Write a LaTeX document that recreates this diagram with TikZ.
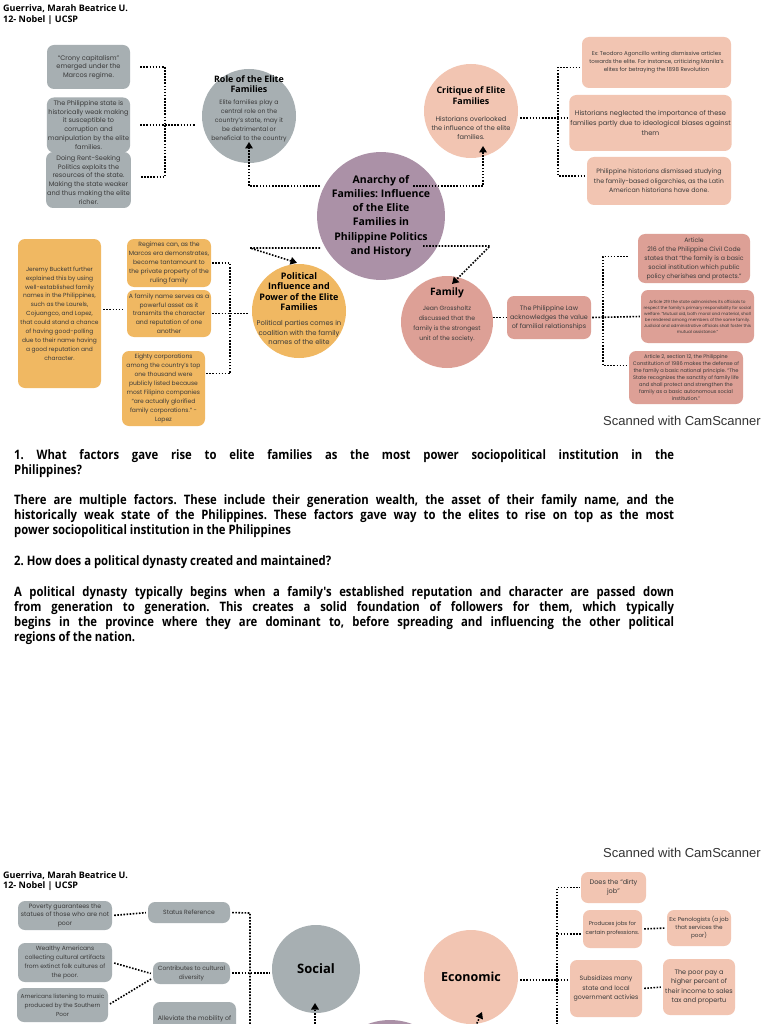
\documentclass[tikz,border=0pt]{standalone}
\usepackage{fontspec}
\setmainfont{Poppins}
\newfontfamily\osans{Open Sans}
\newfontfamily\qafont{Open Sans}[FakeStretch=0.87]
\newfontfamily\csfont{Liberation Sans}
\usetikzlibrary{arrows.meta,calc}
\definecolor{cgray}{HTML}{A7AFB2}
\definecolor{cpeach}{HTML}{F2C5B2}
\definecolor{cpurple}{HTML}{AB91A7}
\definecolor{corange}{HTML}{F0B862}
\definecolor{cpink}{HTML}{DDA096}
\definecolor{ctext}{HTML}{3A3A3A}
\definecolor{cscan}{HTML}{333333}
\tikzset{
  txt/.style={font=\fontsize{6.4}{9}\selectfont, text=ctext, align=center, inner sep=1pt},
  rbox/.style={txt, rounded corners=7pt},
  wh/.style 2 args={minimum width=#1pt, minimum height=#2pt},
  circ/.style={circle, inner sep=0pt, minimum size=#1pt},
  ttl/.style={font=\osans\bfseries\fontsize{8.9}{10.5}\selectfont, align=center, text=black, inner sep=0pt},
  dots/.style={line width=1.6pt, dash pattern=on 1.6pt off 1.5pt, black},
  arr/.style={dots, -{Triangle[width=7.5pt,length=6.5pt]}},
  qa/.style={font=\qafont\bfseries\fontsize{13}{15}\selectfont, text width=660pt, align=justify, inner sep=0pt, text=black},
  hdr/.style={font=\osans\bfseries\fontsize{9}{10.5}\selectfont, align=left, inner sep=0pt, text=black},
  scan/.style={font=\csfont\fontsize{13}{14}\selectfont, text=cscan, inner sep=0pt},
}
\begin{document}
\frenchspacing
\begin{tikzpicture}[x=1pt,y=-1pt]
\useasboundingbox (0,0) rectangle (768,1024);
\fill[white] (0,0) rectangle (768,1024);

% ---------- headers ----------
\node[hdr, anchor=base west] (hdr1) at (3,22.5) {Guerriva, Marah Beatrice U.\\12- Nobel | UCSP};
\node[hdr, anchor=base west] (hdr2) at (3,888.5) {Guerriva, Marah Beatrice U.\\12- Nobel | UCSP};
\node[scan, anchor=base west] (scan1) at (603,425.5) {Scanned with CamScanner};
\node[scan, anchor=base west] (scan2) at (603,857.5) {Scanned with CamScanner};

% ---------- top-left gray ----------
\node[rbox, fill=cgray, wh={83}{44}, font=\fontsize{6.6}{8.4}\selectfont] (g1) at (88.5,67) {“Crony capitalism”\\emerged under the\\Marcos regime.};
\node[rbox, fill=cgray, wh={83}{55}, font=\fontsize{6.5}{8.9}\selectfont] (g2) at (88.5,125) {The Philippine state is\\historically weak making\\it susceptible to\\corruption and\\manipulation by the elite\\families.};
\node[rbox, fill=cgray, wh={83}{56}, font=\fontsize{6.5}{8.9}\selectfont] (g3) at (88.5,180) {Doing Rent-Seeking\\Politics exploits the\\resources of the state.\\Making the state weaker\\and thus making the elite\\richer.};

\node[circ=94, fill=cgray] (role) at (249,116) {};
\node[ttl] (roleT) at (249,84) {Role of the Elite\\Families};
\node[txt, font=\fontsize{6.2}{9}\selectfont] (roleB) at (249,121) {Elite families play a\\central role on the\\country's state, may it\\be detrimental or\\beneficial to the country};

% ---------- critique ----------
\node[circ=94, fill=cpeach] (crit) at (471,111) {};
\node[ttl] (critT) at (471,95.5) {Critique of Elite\\Families};
\node[txt, font=\fontsize{6.6}{9.2}\selectfont] (critB) at (471,128) {Historians overlooked\\the influence of the elite\\families.};

\node[rbox, fill=cpeach, wh={149}{51}, font=\fontsize{5.5}{8}\selectfont] (b1) at (656.5,62.5) {Ex: Teodoro Agoncillo writing dismissive articles\\towards the elite. For instance, criticizing Manila's\\elites for betraying the 1898 Revolution};
\node[rbox, fill=cpeach, wh={161}{56}, font=\fontsize{6.7}{10}\selectfont] (b2) at (650.5,123) {Historians neglected the importance of these\\families partly due to ideological biases against\\them};
\node[rbox, fill=cpeach, wh={144}{48}, font=\fontsize{6.3}{9.6}\selectfont] (b3) at (659,181) {Philippine historians dismissed studying\\the family-based oligarchies, as the Latin\\American historians have done.};

% ---------- center ----------
\node[circ=124, fill=cpurple, font=\osans\bfseries\fontsize{10.5}{14.3}\selectfont, align=center] (cent) at (381,216) {Anarchy of\\Families: Influence\\of the Elite\\Families in\\Philippine Politics\\and History};

% ---------- political ----------
\node[circ=94, fill=corange] (pol) at (299,311) {};
\node[ttl, font=\osans\bfseries\fontsize{9}{10.4}\selectfont] (polT) at (299,291.5) {Political\\Influence and\\Power of the Elite\\Families};
\node[txt, font=\fontsize{6.8}{9.5}\selectfont] (polB) at (299,332.5) {Political parties comes in\\coalition with the family\\names of the elite};

\node[rbox, fill=corange, wh={84}{48}, font=\fontsize{6.1}{9}\selectfont] (o1) at (169,263) {Regimes can, as the\\Marcos era demonstrates,\\become tantamount to\\the private property of the\\ruling family};
\node[rbox, fill=corange, wh={84}{47}, font=\fontsize{6.1}{8.6}\selectfont] (o2) at (169,313.5) {A family name serves as a\\powerful asset as it\\transmits the character\\and reputation of one\\another};
\node[rbox, fill=corange, wh={83}{75}, font=\fontsize{6}{9}\selectfont] (o3) at (163.5,388.5) {Eighty corporations\\among the country's top\\one thousand were\\publicly listed because\\most Filipino companies\\“are actually glorified\\family corporations.” -\\Lopez};
\node[rbox, fill=corange, wh={83}{149}, font=\fontsize{5.9}{8.9}\selectfont] (bigO) at (59.5,313.5) {Jeremy Buckett further\\explained this by using\\well-established family\\names in the Philippines,\\such as the Laurels,\\Cojuangco, and Lopez,\\that could stand a chance\\of having good-polling\\due to their name having\\a good reputation and\\character.};

% ---------- family ----------
\node[circ=92, fill=cpink] (fam) at (447,322) {};
\node[ttl, font=\osans\bfseries\fontsize{10.2}{10}\selectfont] (famT) at (447,293) {Family};
\node[txt, font=\fontsize{6.1}{10}\selectfont] (famB) at (447,324) {Jean Grossholtz\\discussed that the\\family is the strongest\\unit of the society.};

\node[rbox, fill=cpink, wh={84}{43}, font=\fontsize{6.4}{9}\selectfont] (law) at (549,317.5) {The Philippine Law\\acknowledges the value\\of familial relationships};
\node[rbox, fill=cpink, wh={112}{49}, font=\fontsize{6.2}{9}\selectfont] (a1) at (694,258.5) {Article\\216 of the Philippine Civil Code\\states that “the family is a basic\\social institution which public\\policy cherishes and protects.”};
\node[rbox, fill=cpink, wh={113}{53}, font=\fontsize{4.2}{6}\selectfont] (a2) at (697.5,316.5) {Article 219 the state admonishes its officials to\\respect the family's primary responsibility for social\\welfare. “Mutual aid, both moral and material, shall\\be rendered among members of the same family.\\Judicial and administrative officials shall foster this\\mutual assistance.”};
\node[rbox, fill=cpink, wh={114}{53}, font=\fontsize{5.1}{7.1}\selectfont] (a3) at (686,377.5) {Article 2, section 12, the Philippine\\Constitution of 1986 makes the defense of\\the family a basic national principle. “The\\State recognizes the sanctity of family life\\and shall protect and strengthen the\\family as a basic autonomous social\\institution.”};

% ---------- connectors (top page) ----------
\coordinate (j1) at (165,124);
\draw[dots, shorten <=10pt] (g1.east) -| (j1);
\draw[dots, shorten <=10pt] ([yshift=3pt]g3.east) -| (j1);
\draw[dots, shorten <=10pt, shorten >=7pt] (g2.east) -- (g2.east -| role.west);
\draw[arr, shorten >=26pt] ([shift={(-61,-30)}]cent.center) -| (role.center);
\draw[arr, shorten >=35pt] ([shift={(32,-30)}]cent.center) -| ([shift={(12,0)}]crit.center);
\draw[arr] ([shift={(-61,32)}]cent.center) -- ++(-70,0) -- ([shift={(-2,-1)}]pol.north);
\draw[arr] ([shift={(42,30)}]cent.center) -- ++(67,0) -- ([shift={(5,-38)}]fam.center);

\coordinate (j4) at (558,118);
\draw[dots, shorten <=2pt] (crit.east |- j4) -- (j4 -| b2.west);
\draw[dots, shorten >=1pt] (j4) |- ([yshift=-5pt]b1.west);
\draw[dots, shorten >=1pt] (j4) |- ([yshift=5pt]b3.west);

\coordinate (j2) at (230,313);
\draw[dots, shorten <=1pt, shorten >=4pt] (o2.east) -- (o2.east -| pol.west);
\draw[dots, shorten <=1pt] (o1.east) -| (j2);
\draw[dots, shorten <=1pt] ([yshift=15pt]o3.east) -| (j2);
\draw[dots, shorten <=2pt, shorten >=2pt] ([yshift=4pt]bigO.east) -- ([yshift=4pt]o2.west);

\draw[dots, shorten >=1pt] (fam.east |- law.west) -- (law.west);
\coordinate (j3) at (603,317);
\draw[dots, shorten <=1pt, shorten >=1pt] (law.east) -- (a2.west);
\draw[dots, shorten >=10pt] (j3) |- ([yshift=2pt]a1.west);
\draw[dots, shorten >=1pt] (j3) |- ([yshift=12pt]a3.west);

% ---------- questions ----------
\node[qa, anchor=base west] (q1) at (14,459) {1. What factors gave rise to elite families as the most power sociopolitical institution in the\linebreak Philippines?};
\node[qa, anchor=base west] (ans1) at (14,504) {There are multiple factors. These include their generation wealth, the asset of their family name, and the\linebreak historically weak state of the Philippines. These factors gave way to the elites to rise on top as the most\linebreak power sociopolitical institution in the Philippines};
\node[qa, anchor=base west] (q2) at (14,565) {2. How does a political dynasty created and maintained?};
\node[qa, anchor=base west] (ans2) at (14,596) {A political dynasty typically begins when a family's established reputation and character are passed down\linebreak from generation to generation. This creates a solid foundation of followers for them, which typically\linebreak begins in the province where they are dominant to, before spreading and influencing the other political\linebreak regions of the nation.};

% ---------- bottom page ----------
\node[rbox, fill=cgray, wh={94}{29}, font=\fontsize{6.2}{8.5}\selectfont] (gb1) at (65,915.5) {Poverty guarantees the\\statues of those who are not\\poor};
\node[rbox, fill=cgray, wh={82}{21}, font=\fontsize{6.1}{8.5}\selectfont] (status) at (189,912.5) {Status Reference};
\node[rbox, fill=cgray, wh={94}{39}, font=\fontsize{6}{9}\selectfont] (gb2) at (65,962.5) {Wealthy Americans\\collecting cultural artifacts\\from extinct folk cultures of\\the poor.};
\node[rbox, fill=cgray, wh={77}{22}, font=\fontsize{6}{9}\selectfont] (contrib) at (191.5,973) {Contributes to cultural\\diversity};
\node[rbox, fill=cgray, wh={91}{34}, font=\fontsize{5.8}{9}\selectfont] (gb3) at (62.5,1005) {Americans listening to music\\produced by the Southern\\Poor};
\node[rbox, fill=cgray, wh={83}{46}] (allev) at (194.5,1025) {};
\node[txt, font=\fontsize{6.3}{9}\selectfont] (allevT) at (194.5,1019) {Alleviate the mobility of};

\node[circ=88, fill=cgray, font=\osans\bfseries\fontsize{13}{15}\selectfont] (social) at (316,969) {Social};
\node[circ=124, fill=cpurple] (cent2) at (390,1082) {};
\node[circ=94, fill=cpeach, font=\osans\bfseries\fontsize{12.5}{15}\selectfont] (econ) at (471,977) {Economic};

\node[rbox, fill=cpeach, wh={65}{31}, font=\fontsize{6.6}{9}\selectfont] (dirty) at (613.5,887.5) {Does the “dirty\\job”};
\node[rbox, fill=cpeach, wh={59}{38}, font=\fontsize{5.5}{9}\selectfont] (prod) at (612.5,929) {Produces jobs for\\certain professions.};
\node[rbox, fill=cpeach, wh={64}{36}, font=\fontsize{5.7}{8}\selectfont] (penol) at (699,928) {Ex: Penologists (a job\\that services the\\poor)};
\node[rbox, fill=cpeach, wh={72}{57}, font=\fontsize{6.3}{9.6}\selectfont] (subs) at (606,988.5) {Subsidizes many\\state and local\\government activies};
\node[rbox, fill=cpeach, wh={72}{56}, font=\fontsize{6.5}{9.6}\selectfont] (poor) at (699,987) {The poor pay a\\higher percent of\\their income to sales\\tax and propertu};

% ---------- connectors (bottom page) ----------
\draw[dots, shorten <=2pt, shorten >=2pt] (gb1.east) -- (status.west);
\coordinate (j5) at (250,913);
\coordinate (j5b) at (250,1030);
\draw[dots, shorten <=2pt] (status.east) -- (j5) -- (j5b);
\draw[dots, shorten <=2pt, shorten >=2pt] (contrib.east) -- (contrib.east -| social.west);
\draw[dots, shorten <=2pt, shorten >=2pt] (gb2.east) -- ([yshift=-1pt]contrib.west);
\draw[dots, shorten <=2pt, shorten >=2pt] (gb3.east) -- ([yshift=-5pt]contrib.west);
\coordinate (s0) at (315,1030);
\draw[arr] (s0) -- ([shift={(-1,34)}]social.center);
\coordinate (e0) at (473,1032);
\draw[arr] (e0) -- ([shift={(11,35)}]econ.center);

\coordinate (j6) at (557,980);
\coordinate (j6b) at (557,1030);
\draw[dots, shorten <=2pt, shorten >=1pt] (econ.east |- j6) -- (j6 -| subs.west);
\draw[dots, shorten >=1pt] (j6) |- (dirty.west);
\draw[dots, shorten >=1pt] (j6) |- ([yshift=-5pt]prod.west);
\draw[dots] (j6) -- (j6b);
\draw[dots, shorten <=2pt, shorten >=2pt] (prod.east) -- (penol.west);
\draw[dots, shorten <=2pt, shorten >=2pt] (subs.east) -- (poor.west);
\end{tikzpicture}
\end{document}
